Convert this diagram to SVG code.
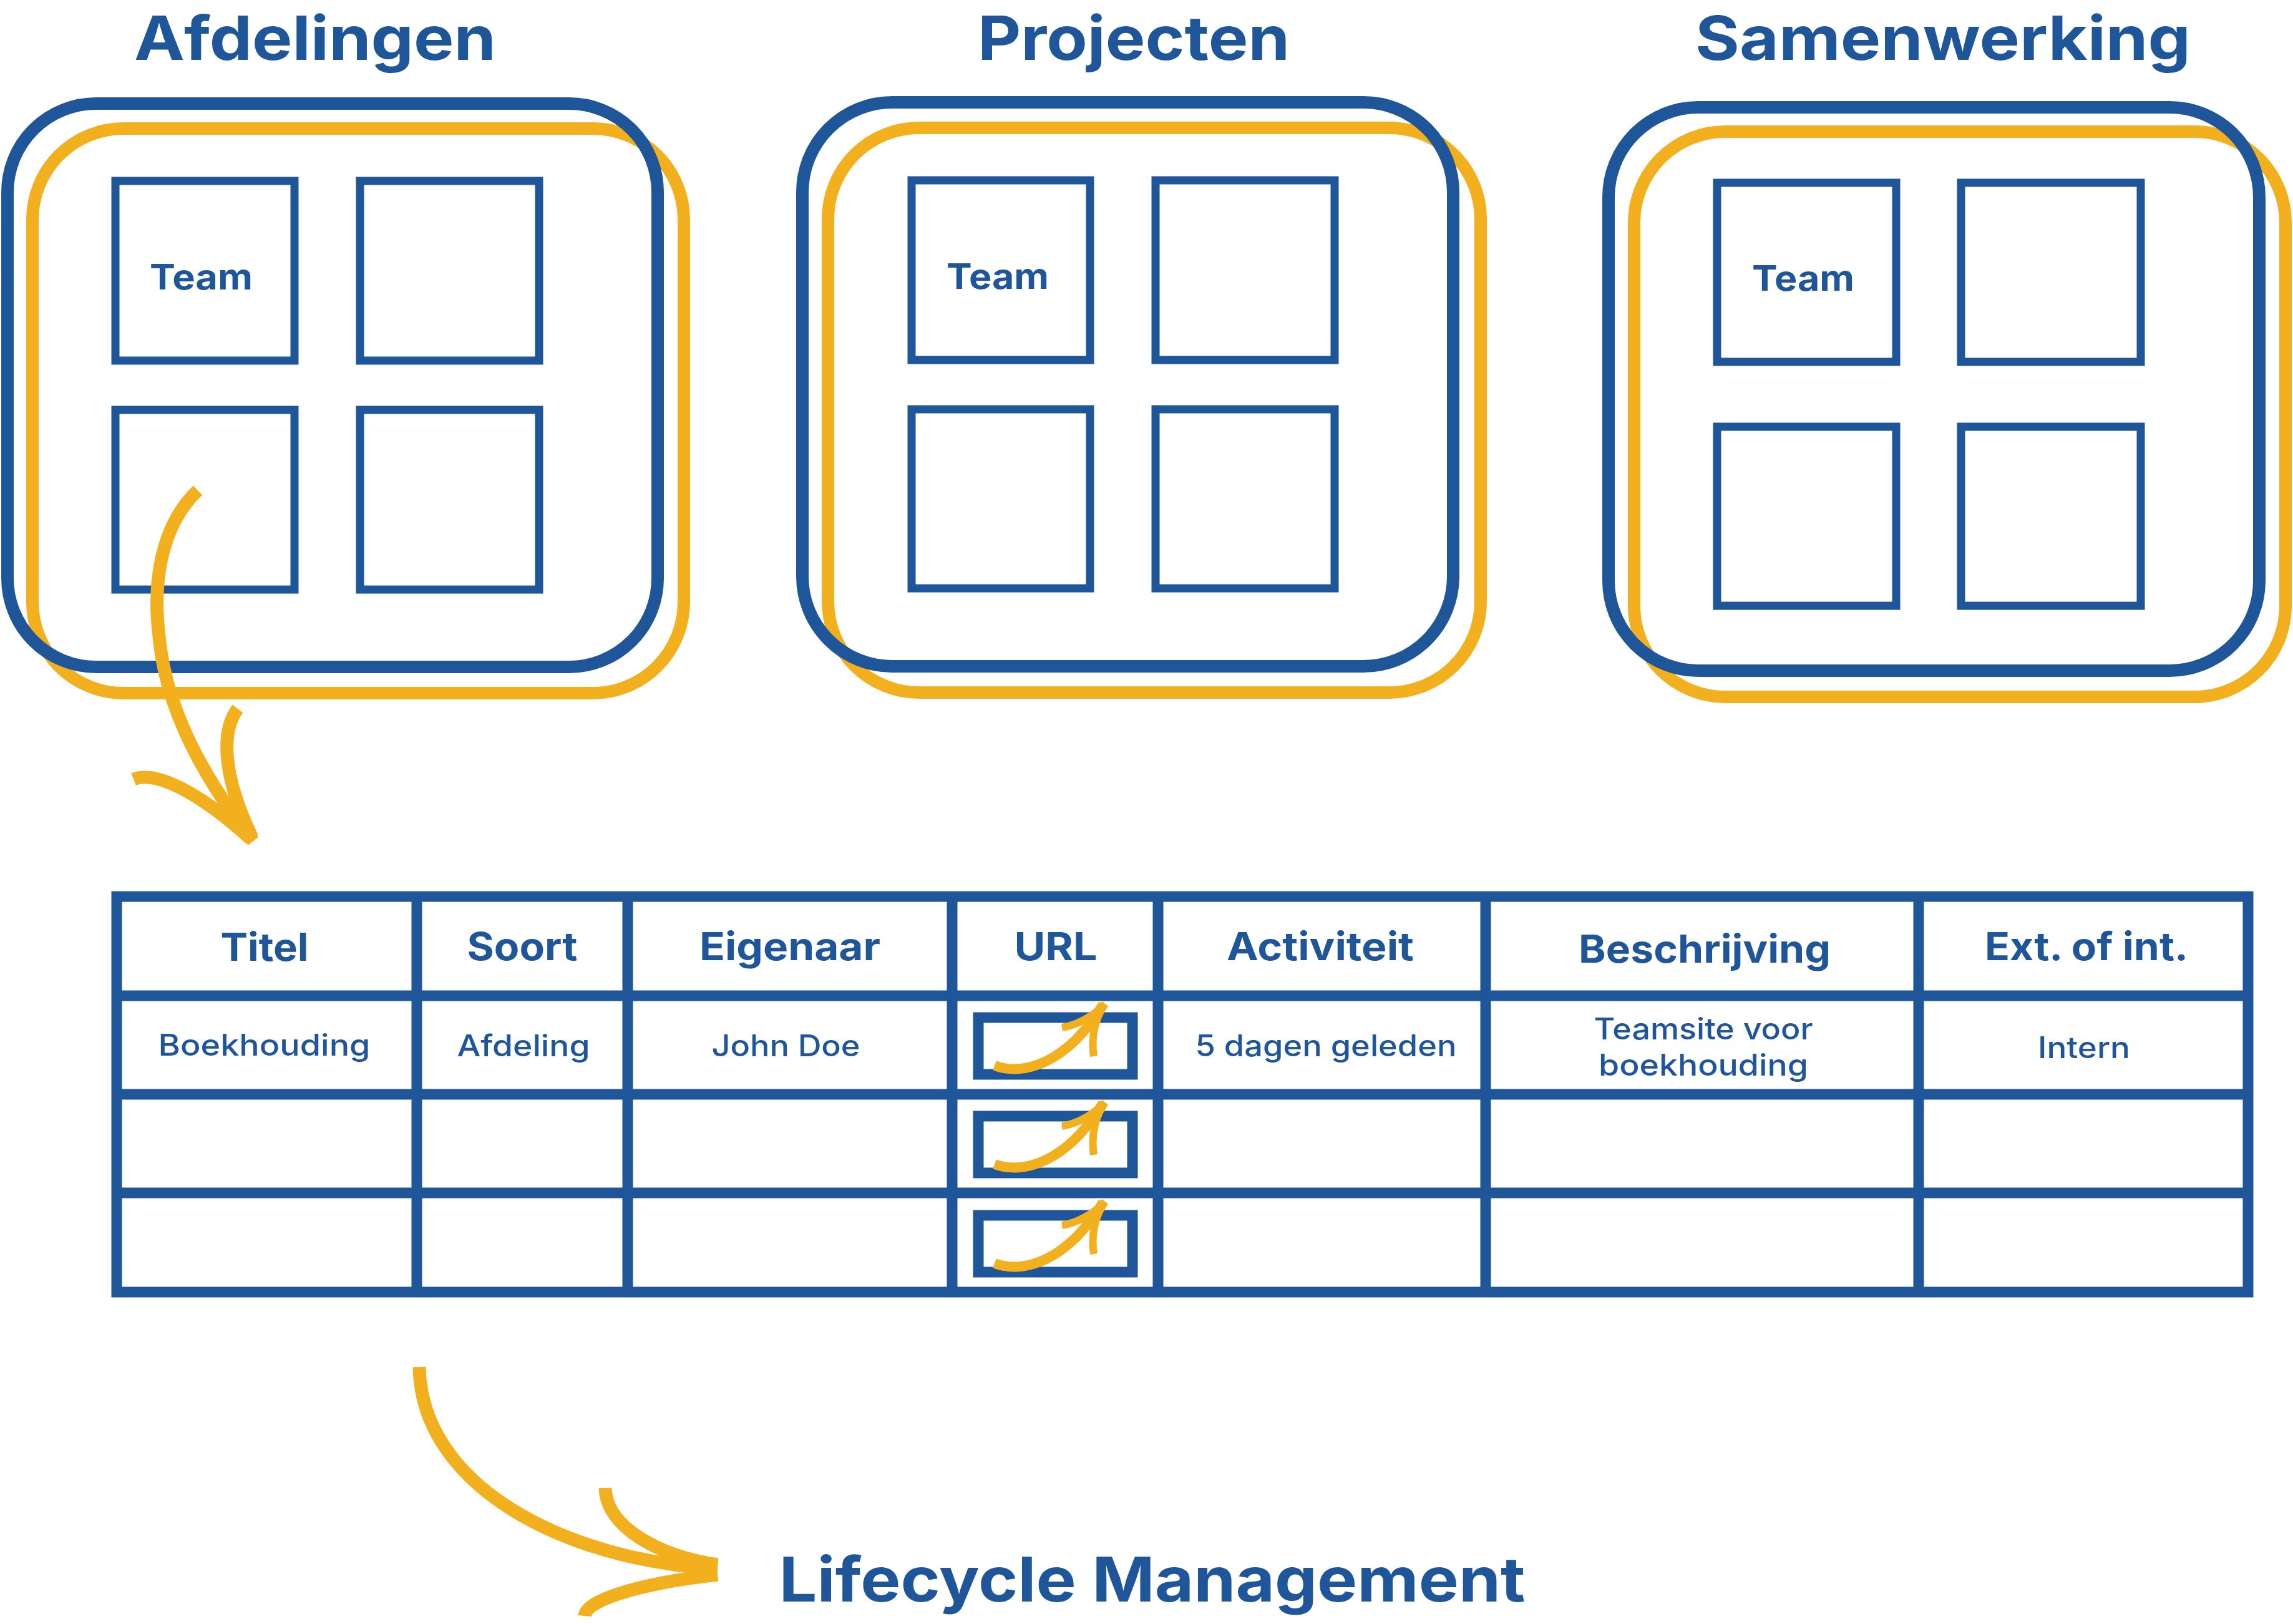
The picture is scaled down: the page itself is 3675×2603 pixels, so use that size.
<svg xmlns="http://www.w3.org/2000/svg" width="3675" height="2603" viewBox="0 0 3675 2603">
<style>
.blue{fill:none;stroke:#1F5699;stroke-width:20}
.orange{fill:none;stroke:#F2AF1E;stroke-width:20}
.sq{fill:none;stroke:#1F5699;stroke-width:13}
.grid{fill:none;stroke:#1F5699;stroke-width:17;stroke-linecap:square}
.urlbox{fill:none;stroke:#1F5699;stroke-width:17}
.arr{fill:none;stroke:#F2AF1E;stroke-width:21;stroke-linecap:butt}
.ico{fill:none;stroke:#F2AF1E;stroke-linecap:butt;stroke-linejoin:round}
text{font-family:Inter,"Open Sans","Liberation Sans",sans-serif;fill:#1F5699;text-anchor:middle}
.title{font-size:98px;font-weight:700}
.team{font-size:56px;font-weight:700}
.hdr{font-size:62px;font-weight:700}
.cell{font-size:48px;font-weight:500}
.lcm{font-size:99px;font-weight:700}
</style>
<defs>
<g id="link-arrow">
<path class="ico" stroke-width="16" d="M26,77 C72,94 142,74 200,-21"/>
<path class="ico" stroke-width="12" d="M134,16 C160,12 186,-4 203,-22"/>
<path class="ico" stroke-width="12" d="M185,62 C180,30 188,0 203,-22"/>
</g>
</defs>
<rect width="3675" height="2603" fill="#fff"/>

<g id="afdelingen">
<text class="title" x="505" y="96" textLength="580" lengthAdjust="spacingAndGlyphs">Afdelingen</text>
<rect class="orange" x="52" y="206" width="1044" height="905" rx="146"/>
<rect class="blue" x="12" y="166" width="1042" height="903" rx="142"/>
<rect class="sq" x="185" y="290" width="287" height="288"/>
<rect class="sq" x="577" y="290" width="287" height="288"/>
<rect class="sq" x="185" y="657" width="287" height="288"/>
<rect class="sq" x="577" y="657" width="287" height="288"/>
<text class="team" x="322.5" y="464" textLength="165" lengthAdjust="spacingAndGlyphs">Team</text>
</g>

<g id="projecten">
<text class="title" x="1817" y="96" textLength="500" lengthAdjust="spacingAndGlyphs">Projecten</text>
<rect class="orange" x="1327" y="205" width="1046" height="905" rx="146"/>
<rect class="blue" x="1286" y="164" width="1043" height="904" rx="144"/>
<rect class="sq" x="1461" y="289" width="286" height="288"/>
<rect class="sq" x="1852" y="289" width="287" height="288"/>
<rect class="sq" x="1461" y="656" width="286" height="287"/>
<rect class="sq" x="1852" y="656" width="287" height="287"/>
<text class="team" x="1599" y="463" textLength="164" lengthAdjust="spacingAndGlyphs">Team</text>
</g>

<g id="samenwerking">
<text class="title" x="3114" y="96" textLength="794" lengthAdjust="spacingAndGlyphs">Samenwerking</text>
<rect class="orange" x="2619" y="211" width="1044" height="906" rx="146"/>
<rect class="blue" x="2578" y="172" width="1043" height="903" rx="144"/>
<rect class="sq" x="2752" y="293" width="287" height="287"/>
<rect class="sq" x="3143" y="293" width="288" height="287"/>
<rect class="sq" x="2752" y="684" width="287" height="287"/>
<rect class="sq" x="3143" y="684" width="288" height="287"/>
<text class="team" x="2890" y="466" textLength="164" lengthAdjust="spacingAndGlyphs">Team</text>
</g>

<g id="tabel">
<path class="grid" d="M187,1437 H3603 M187,1596 H3603 M187,1754 H3603 M187,1912 H3603 M187,2071 H3603 M187,1437 V2071 M668,1437 V2071 M1006,1437 V2071 M1526,1437 V2071 M1856,1437 V2071 M2381,1437 V2071 M3075,1437 V2071 M3603,1437 V2071"/>
<text class="hdr" x="424" y="1540" textLength="141" lengthAdjust="spacingAndGlyphs">Titel</text>
<text class="hdr" x="837" y="1539" textLength="177" lengthAdjust="spacingAndGlyphs">Soort</text>
<text class="hdr" x="1266" y="1539" textLength="290" lengthAdjust="spacingAndGlyphs">Eigenaar</text>
<text class="hdr" x="1692" y="1539" textLength="133" lengthAdjust="spacingAndGlyphs">URL</text>
<text class="hdr" x="2116" y="1539" textLength="300" lengthAdjust="spacingAndGlyphs">Activiteit</text>
<text class="hdr" x="2732" y="1543" textLength="404" lengthAdjust="spacingAndGlyphs">Beschrijving</text>
<text class="hdr" x="3344" y="1539" textLength="326" lengthAdjust="spacingAndGlyphs">Ext. of int.</text>
<text class="cell" x="423.5" y="1692" textLength="340" lengthAdjust="spacingAndGlyphs">Boekhouding</text>
<text class="cell" x="839" y="1693" textLength="213" lengthAdjust="spacingAndGlyphs">Afdeling</text>
<text class="cell" x="1259.5" y="1693" textLength="238" lengthAdjust="spacingAndGlyphs">John Doe</text>
<text class="cell" x="2125" y="1693" textLength="419" lengthAdjust="spacingAndGlyphs">5 dagen geleden</text>
<text class="cell" x="2730" y="1666" textLength="351" lengthAdjust="spacingAndGlyphs">Teamsite voor</text>
<text class="cell" x="2730" y="1724" textLength="336" lengthAdjust="spacingAndGlyphs">boekhouding</text>
<text class="cell" x="3340" y="1696" textLength="148" lengthAdjust="spacingAndGlyphs">Intern</text>
<rect class="urlbox" x="1568" y="1631" width="247" height="91"/>
<rect class="urlbox" x="1568" y="1789" width="247" height="91"/>
<rect class="urlbox" x="1568" y="1948" width="247" height="91"/>
<use href="#link-arrow" transform="translate(1568,1631)"/>
<use href="#link-arrow" transform="translate(1568,1789)"/>
<use href="#link-arrow" transform="translate(1568,1948)"/>
</g>

<g id="lifecycle">
<text class="lcm" x="1846.5" y="2567" textLength="1196" lengthAdjust="spacingAndGlyphs">Lifecycle Management</text>
</g>

<g id="connectors">
<path class="arr" d="M317,786 C255,845 245,940 255,1020 C265,1130 320,1240 406,1348"/>
<path class="arr" stroke-width="19" d="M381,1136 C355,1170 355,1240 404,1342"/>
<path class="arr" stroke-width="19" d="M214,1249 C250,1235 320,1270 402,1345"/>
<path class="arr" d="M672,2191 C675,2380 900,2500 1150,2515"/>
<path class="arr" stroke-width="19" d="M970,2385 C972,2450 1060,2495 1150,2508"/>
<path class="arr" stroke-width="19" d="M1150,2524 C1050,2535 940,2560 937,2590"/>
</g>
</svg>
